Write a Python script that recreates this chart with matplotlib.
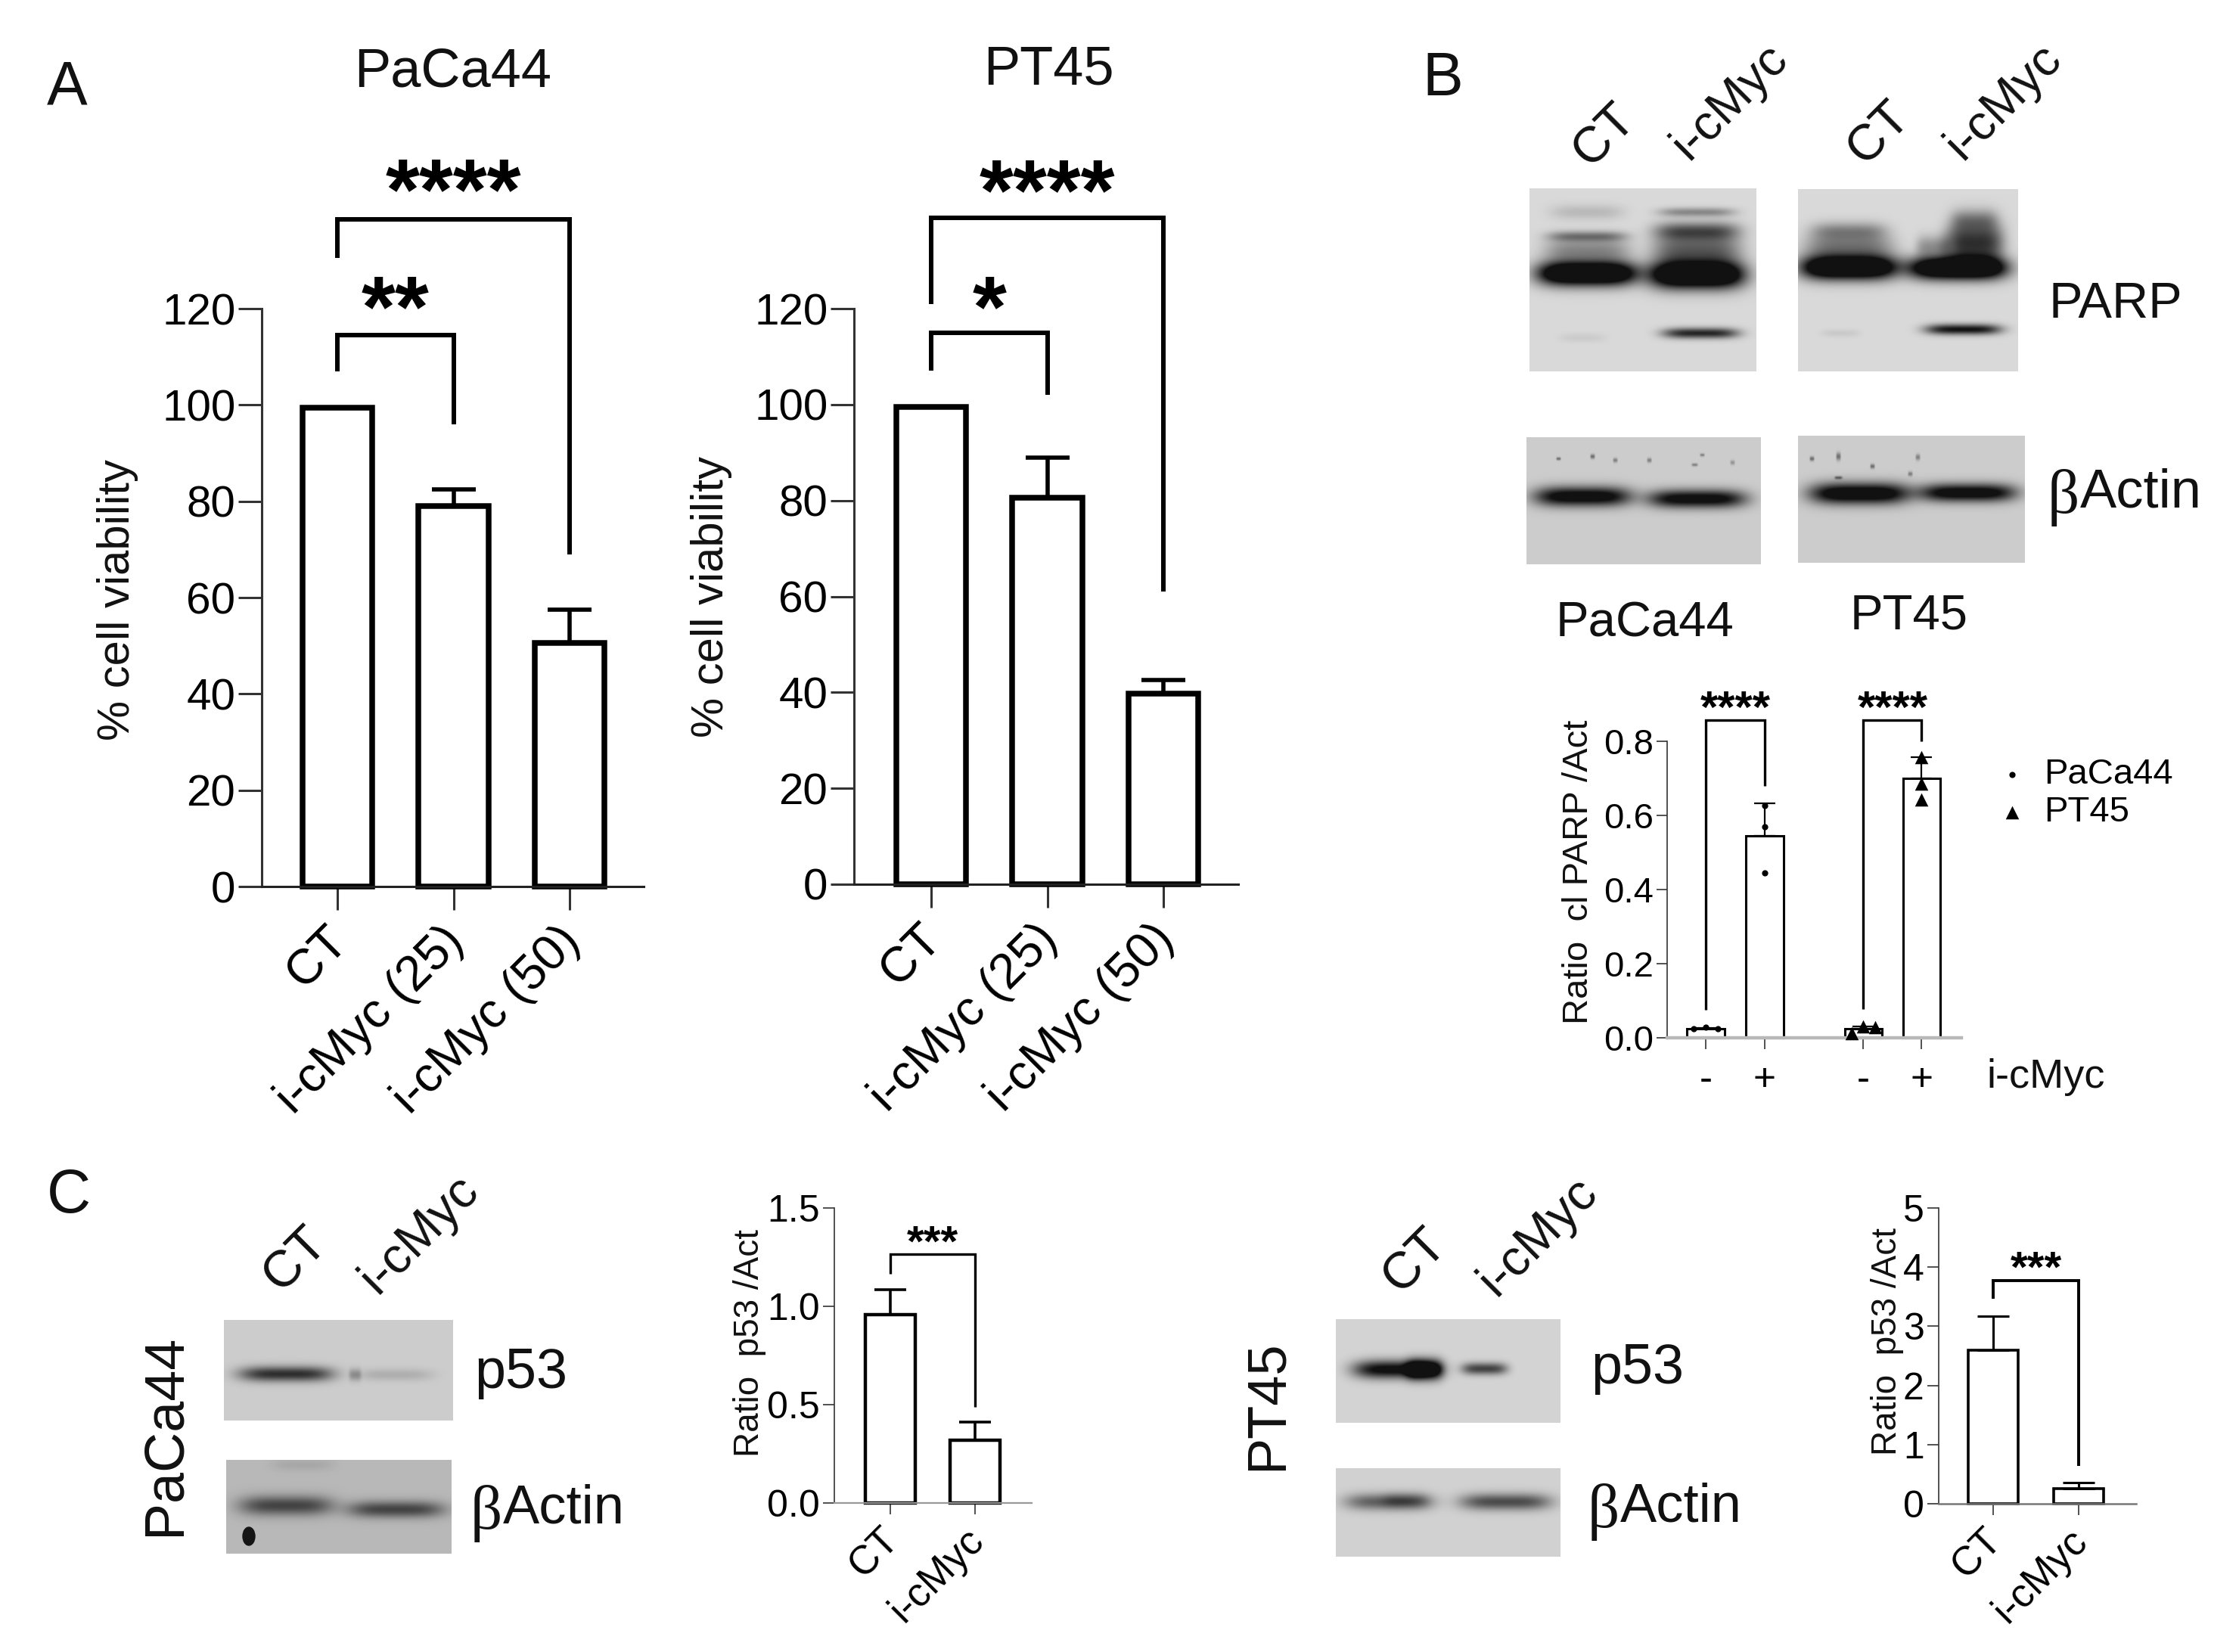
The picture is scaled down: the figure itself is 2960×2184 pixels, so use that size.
import numpy as np
import matplotlib
matplotlib.use("Agg")
import matplotlib.pyplot as plt
from matplotlib.patches import Ellipse
from matplotlib.transforms import ScaledTranslation

plt.rcParams['font.family'] = ['Liberation Sans', 'DejaVu Sans']

W, H = 2960, 2184

# panel A
cats_a = ["CT", "i-cMyc (25)", "i-cMyc (50)"]
paca_vals = [99.5, 79, 50.5]
paca_errs = [0, 3.5, 7]
pt_vals = [99.5, 80.5, 39.8]
pt_errs = [0, 8.5, 2.7]
ticks_a = [0, 20, 40, 60, 80, 100, 120]

# panel B
parp_pos = [0, 1, 2.67, 3.66]
parp_vals = [0.024, 0.545, 0.024, 0.70]
parp_errs = [0.003, 0.088, 0.006, 0.057]
parp_signs = ["-", "+", "-", "+"]
parp_ticks = [0.0, 0.2, 0.4, 0.6, 0.8]
paca_pts_x = [-0.2, 0, 0.2, 1, 1, 1]
paca_pts_y = [0.024, 0.028, 0.024, 0.626, 0.57, 0.444]
pt_pts_x = [2.47, 2.67, 2.87, 3.66, 3.66, 3.66]
pt_pts_y = [0.012, 0.03, 0.028, 0.757, 0.685, 0.643]

# panel C
cats_c = ["CT", "i-cMyc"]
p53a_vals = [0.958, 0.32]
p53a_errs = [0.128, 0.09]
p53a_ticks = [0.0, 0.5, 1.0, 1.5]
p53b_vals = [2.59, 0.25]
p53b_errs = [0.58, 0.11]
p53b_ticks = [0, 1, 2, 3, 4, 5]

# blot bands: centre x, centre y, half width, half height, strength
parp_l = [(2098, 361, 66, 16, 1.7), (2243, 363, 63, 18, 1.7), (2098, 330, 56, 16, 0.4),
          (2243, 330, 58, 22, 0.6), (2098, 312, 52, 7, 0.45), (2243, 305, 56, 12, 0.6),
          (2098, 280, 48, 10, 0.16), (2243, 280, 50, 6, 0.4),
          (2248, 440, 50, 7, 0.9), (2092, 446, 30, 6, 0.07)]
parp_r = [(2444, 353, 64, 16, 1.7), (2588, 354, 65, 15, 1.7), (2444, 325, 58, 16, 0.45),
          (2444, 305, 50, 12, 0.4), (2610, 320, 38, 26, 0.85), (2610, 290, 30, 14, 0.35),
          (2555, 325, 22, 14, 0.35), (2595, 435, 50, 7, 1.0), (2433, 440, 25, 5, 0.08)]
actin_l = [(2092, 656, 64, 13, 1.2), (2243, 659, 65, 12, 1.15), (2060, 606, 3, 2, 0.5),
           (2105, 603, 3, 3, 0.5), (2135, 608, 3, 3, 0.4), (2180, 608, 3, 3, 0.4),
           (2240, 614, 4, 2, 0.4), (2250, 601, 3, 2, 0.4), (2290, 611, 3, 3, 0.3)]
actin_r = [(2458, 652, 66, 14, 1.3), (2601, 651, 64, 12, 1.2), (2395, 606, 3, 3, 0.5),
           (2430, 603, 3, 5, 0.5), (2475, 616, 3, 3, 0.5), (2430, 631, 5, 2, 0.5),
           (2535, 604, 3, 4, 0.4), (2525, 626, 3, 3, 0.4)]
p53_la = [(378, 1816, 62, 10, 0.85), (522, 1817, 50, 8, 0.16), (469, 1817, 8, 8, 0.3)]
act_la = [(378, 1990, 62, 13, 0.7), (523, 1995, 64, 11, 0.7), (400, 1936, 40, 8, 0.1)]
p53_rb = [(1846, 1810, 57, 12, 1.1), (1883, 1810, 24, 13, 1.0), (1962, 1809, 30, 8, 0.75)]
act_rb = [(1836, 1985, 58, 11, 0.6), (1858, 1983, 30, 10, 0.2), (1990, 1985, 60, 11, 0.7)]

fig = plt.figure(figsize=(W / 100, H / 100), dpi=100, facecolor="white")
pg = fig.add_axes([0, 0, 1, 1])
pg.axis("off")


def blot(x0, x1, y0, y1, bg, bands):
    xx, yy = np.meshgrid(np.arange(x0, x1), np.arange(y0, y1))
    dark = np.zeros(xx.shape)
    for cx, cy, w, h, s in bands:
        dark += s * np.exp(-(np.abs((xx - cx) / w) ** 4 + ((yy - cy) / h) ** 2))
    dark = np.clip(dark, 0, 1)
    img = bg * (1 - dark) + 0.07 * dark
    pg.imshow(img, cmap="gray", vmin=0, vmax=1, extent=(x0, x1, y1, y0), aspect="auto")


blot(2022, 2322, 249, 491, 0.85, parp_l)
blot(2377, 2668, 250, 491, 0.85, parp_r)
blot(2018, 2328, 578, 746, 0.80, actin_l)
blot(2377, 2677, 576, 744, 0.80, actin_r)
blot(296, 599, 1745, 1878, 0.80, p53_la)
blot(299, 597, 1930, 2054, 0.72, act_la)
blot(1766, 2063, 1744, 1881, 0.83, p53_rb)
blot(1766, 2063, 1941, 2058, 0.82, act_rb)
pg.add_patch(Ellipse((329, 2031), 16, 24, color="#151515"))
pg.set_xlim(0, W)
pg.set_ylim(H, 0)


def label(x, y, s, size, ha="center", rot=0):
    pg.text(x, y, s, fontsize=size, ha=ha, va="center", rotation=rot, color="#111111")


def beta_actin(x, y, size):
    pg.text(x, y + 6, "\u03b2", fontsize=size * 1.15, ha="left", va="center", family="Liberation Serif", color="#111111")
    pg.text(x + 0.6 * size * 100 / 72, y, "Actin", fontsize=size, ha="left", va="center", color="#111111")


label(62, 116, "A", 58, "left")
label(1880, 105, "B", 58, "left")
label(62, 1582, "C", 58, "left")
label(599, 96, "PaCa44", 52)
label(1386, 93, "PT45", 52)
label(2122, 179, "CT", 48, rot=45)
label(2287, 134, "i-cMyc", 47, rot=45)
label(2485, 176, "CT", 48, rot=45)
label(2649, 134, "i-cMyc", 47, rot=45)
label(2709, 403, "PARP", 48, "left")
beta_actin(2707, 652, 52)
label(2175, 824, "PaCa44", 47)
label(2524, 814, "PT45", 47)
label(2626, 1424, "i-cMyc", 39, "left")
label(391, 1665, "CT", 49, rot=45)
label(555, 1632, "i-cMyc", 48, rot=45)
label(1871, 1667, "CT", 49, rot=45)
label(2034, 1635, "i-cMyc", 48, rot=45)
label(218, 1897, "PaCa44", 53, rot=90)
label(1676, 1858, "PT45", 52, rot=90)
label(627, 1815, "p53", 53, "left")
label(2103, 1809, "p53", 53, "left")
beta_actin(622, 1995, 52)
beta_actin(2099, 1993, 52)


def chart(spine, end, top, bottom, first, step, pos, vals, errs, ticks, ymax, barw,
          barlw, errlw, cap, spine_lw, xaxis_col, xaxis_lw, tick_len, fs, ylabel, ylab_fs, ylab_xy):
    ax = fig.add_axes([spine / W, 1 - bottom / H, (end - spine) / W, (bottom - top) / H])
    ax.patch.set_alpha(0)
    ax.set_xlim((spine - first) / step, (end - first) / step)
    ax.set_ylim(0, ymax)
    ax.bar(pos, vals, width=barw, facecolor="white", edgecolor="black", linewidth=barlw, clip_on=False, zorder=2)
    for p, v, e in zip(pos, vals, errs):
        if e > 0:
            ax.errorbar(p, v, yerr=[[0], [e]], color="black", elinewidth=errlw, capsize=cap,
                        capthick=errlw, clip_on=False, zorder=3)
    for s in ["top", "right"]:
        ax.spines[s].set_visible(False)
    ax.spines["left"].set_linewidth(spine_lw)
    ax.spines["left"].set_color("#333333")
    ax.spines["bottom"].set_linewidth(xaxis_lw)
    ax.spines["bottom"].set_color(xaxis_col)
    ax.spines["bottom"].set_zorder(4)
    ax.set_yticks(ticks)
    ax.tick_params(axis="y", length=tick_len, width=spine_lw, color="#333333", labelsize=fs, pad=3)
    ax.tick_params(axis="x", length=tick_len, width=spine_lw, color="#333333", labelsize=fs)
    ax.set_ylabel(ylabel, fontsize=ylab_fs, color="#111111")
    ax.yaxis.set_label_coords(ylab_xy[0], ylab_xy[1], transform=pg.transData)
    return ax


def bracket(ax, x1, x2, y, left_end, right_end, lw):
    ax.plot([x1, x1, x2, x2], [left_end, y, y, right_end], color="black", lw=lw,
            solid_joinstyle="miter", solid_capstyle="butt", clip_on=False, zorder=5)


def stars(ax, x, y, n, size):
    ax.annotate("*" * n, (x, y), xytext=(0, -0.46 * size), textcoords="offset points",
                ha="center", va="baseline", fontsize=size, fontweight="bold", annotation_clip=False)


def rot_labels(ax, pos, labels, size, pad, dx, dy):
    ax.set_xticks(pos)
    ax.set_xticklabels(labels, rotation=45, ha="right", rotation_mode="anchor", fontsize=size)
    ax.tick_params(axis="x", pad=pad)
    shift = ScaledTranslation(dx / 72, dy / 72, fig.dpi_scale_trans)
    for lab in ax.get_xticklabels():
        lab.set_transform(lab.get_transform() + shift)


# A, PaCa44
ax = chart(346, 851, 408, 1172, 446, 153.5, [0, 1, 2], paca_vals, paca_errs, ticks_a, 120, 0.6,
           5.4, 4, 21, 2.2, "#222222", 2.2, 22, 42, "% cell viability", 43, (183, 793))
rot_labels(ax, [0, 1, 2], cats_a, 47, 6, -12, -2)
bracket(ax, 0, 2, 138.5, 130.5, 69, 4.3)
bracket(ax, 0, 1, 114.5, 107, 96, 4.3)
stars(ax, 1, 147, 4, 83)
stars(ax, 0.5, 122.7, 2, 83)

# A, PT45
ax = chart(1129, 1637, 408, 1169, 1231, 153.5, [0, 1, 2], pt_vals, pt_errs, ticks_a, 120, 0.6,
           5.4, 4, 21, 2.2, "#222222", 2.2, 22, 42, "% cell viability", 43, (968, 789))
rot_labels(ax, [0, 1, 2], cats_a, 47, 6, -12, -2)
bracket(ax, 0, 2, 139, 121, 61, 4.3)
bracket(ax, 0, 1, 115, 107, 102, 4.3)
stars(ax, 1, 147, 4, 83)
stars(ax, 0.5, 122.7, 1, 83)

# B, PARP ratio
ax = chart(2204, 2593, 980, 1372, 2255, 78, parp_pos, parp_vals, parp_errs, parp_ticks, 0.8, 0.63,
           2.2, 1.6, 10, 1.2, "#b8b8b8", 3.2, 10, 34, "Ratio  cl PARP /Act", 34, (2109, 1153))
ax.set_xticks(parp_pos)
ax.set_xticklabels(parp_signs, fontsize=37)
ax.tick_params(axis="x", pad=12, length=11, width=1.2)
ax.scatter(paca_pts_x, paca_pts_y, s=24, marker="o", color="black", clip_on=False, zorder=6, label="PaCa44")
ax.scatter(pt_pts_x, pt_pts_y, s=160, marker="^", color="black", linewidths=0, clip_on=False, zorder=6, label="PT45")
bracket(ax, parp_pos[0], parp_pos[1], 0.857, 0.075, 0.68, 2.4)
bracket(ax, parp_pos[2], parp_pos[3], 0.857, 0.077, 0.80, 2.4)
stars(ax, 0.5, 0.908, 4, 43)
stars(ax, 3.165, 0.908, 4, 43)
ax.legend(loc="upper left", bbox_to_anchor=(2636, 1002), bbox_transform=pg.transData, frameon=False,
          fontsize=34, labelspacing=0.13, handletextpad=0.4, handlelength=1.0, borderpad=0, borderaxespad=0)

# C, PaCa44 p53
ax = chart(1103, 1364, 1597, 1987, 1177, 112, [0, 1], p53a_vals, p53a_errs, p53a_ticks, 1.5, 0.59,
           3.2, 2.6, 15, 1.2, "#999999", 1.6, 11, 36, "Ratio  p53 /Act", 33, (1013, 1775))
rot_labels(ax, [0, 1], cats_c, 38, 6, -10, 0)
bracket(ax, 0, 1, 1.264, 1.164, 0.49, 2.4)
stars(ax, 0.5, 1.358, 3, 42)

# C, PT45 p53
ax = chart(2563, 2824, 1597, 1988, 2635, 113, [0, 1], p53b_vals, p53b_errs, p53b_ticks, 5, 0.59,
           2.6, 2.2, 15, 1.2, "#777777", 1.8, 11, 36, "Ratio  p53 /Act", 33, (2517, 1774))
rot_labels(ax, [0, 1], cats_c, 38, 6, -10, 0)
bracket(ax, 0, 1, 3.77, 3.46, 0.645, 2.8)
stars(ax, 0.5, 4.1, 3, 42)

fig.savefig("out.png", dpi=100)
